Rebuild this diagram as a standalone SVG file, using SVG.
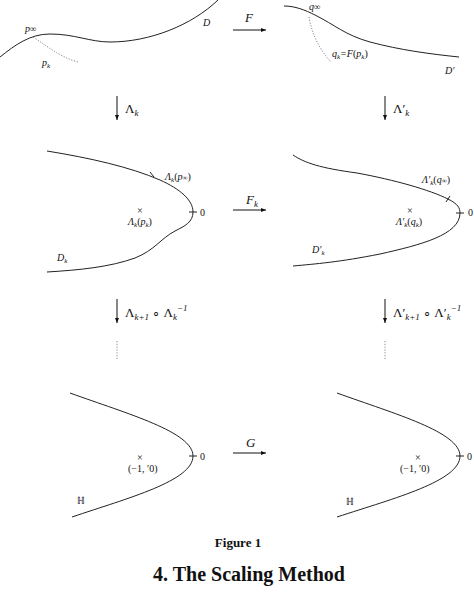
<svg xmlns="http://www.w3.org/2000/svg" width="474" height="593" viewBox="0 0 474 593">
<defs>
<marker id="ah" markerWidth="6" markerHeight="6" refX="5" refY="3" orient="auto" markerUnits="userSpaceOnUse">
<path d="M0,1 L5,3 L0,5 Z" fill="#111"/>
</marker>
<style>
.c{fill:none;stroke:#222;stroke-width:1}
.d{fill:none;stroke:#888;stroke-width:1;stroke-dasharray:1.2 1.6}
.a{fill:none;stroke:#111;stroke-width:1;marker-end:url(#ah)}
.t{fill:none;stroke:#222;stroke-width:1}
.m{font-family:"Liberation Serif",serif;font-style:italic;fill:#111}
.s{font-size:10px}
.l{font-size:13px}
.r{font-family:"Liberation Serif",serif;fill:#111}
.b{font-family:"Liberation Serif",serif;font-weight:bold;fill:#111}
</style>
</defs>
<rect width="474" height="593" fill="#fff"/>

<g id="panel-D">
<path class="c" d="M0,57 C15,45 30,34 50,34 C75,34 90,42 110,42 C150,42 192,25 218,0"/>
<path class="d" d="M33,37 C50,48 60,57 78,62"/>
<text class="m s" x="25" y="32">p<tspan font-size="9">∞</tspan></text>
<text class="m s" x="42" y="66">p<tspan font-size="7" dy="2">k</tspan></text>
<text class="m s" x="203" y="26">D</text>
</g>

<g id="panel-Dprime">
<path class="c" d="M284,6 C295,6 305,10 315,15 C335,25 345,35 370,42 C400,50 430,54 459,57"/>
<path class="d" d="M309,17 C312,35 320,50 331,62"/>
<text class="m s" x="309" y="10">q<tspan font-size="9">∞</tspan></text>
<text class="m s" x="332" y="57">q<tspan font-size="7" dy="2">k</tspan><tspan dy="-2">=</tspan><tspan>F</tspan><tspan font-style="normal">(</tspan>p<tspan font-size="7" dy="2">k</tspan><tspan font-style="normal" dy="-2">)</tspan></text>
<text class="m s" x="445" y="74">D′</text>
</g>

<g id="panel-Dk">
<path class="c" d="M47,151 C90,158 130,167 160,180 C180,189 193,200 193,212 C193,222 185,226 175,231 C160,239 155,250 135,258 C110,267 80,270 47,272"/>
<path class="t" d="M150,172 L154,177 M189,212 L197,212"/>
<text class="m s" x="165" y="180">Λ<tspan font-size="7" dy="2">k</tspan><tspan font-style="normal" dy="-2">(</tspan>p<tspan font-size="7">∞</tspan><tspan font-style="normal">)</tspan></text>
<text class="r s" x="137" y="214">×</text>
<text class="m s" x="128" y="225">Λ<tspan font-size="7" dy="2">k</tspan><tspan font-style="normal" dy="-2">(</tspan>p<tspan font-size="7" dy="2">k</tspan><tspan font-style="normal" dy="-2">)</tspan></text>
<text class="r s" x="200" y="216">0</text>
<text class="m s" x="57" y="261">D<tspan font-size="7" dy="2">k</tspan></text>
</g>

<g id="panel-Dkprime">
<path class="c" d="M293,155 C305,163 320,168 357,173 C395,180 430,190 448,199 C458,204 460,208 460,213 C460,235 420,245 380,254 C340,262 315,264 293,266"/>
<path class="t" d="M446,202 L450,196 M456,213 L464,213"/>
<text class="m s" x="422" y="183">Λ′<tspan font-size="7" dy="2">k</tspan><tspan font-style="normal" dy="-2">(</tspan>q<tspan font-size="7">∞</tspan><tspan font-style="normal">)</tspan></text>
<text class="r s" x="407" y="214">×</text>
<text class="m s" x="396" y="225">Λ′<tspan font-size="7" dy="2">k</tspan><tspan font-style="normal" dy="-2">(</tspan>q<tspan font-size="7" dy="2">k</tspan><tspan font-style="normal" dy="-2">)</tspan></text>
<text class="r s" x="468" y="216">0</text>
<text class="m s" x="312" y="253">D′<tspan font-size="7" dy="2">k</tspan></text>
</g>

<g id="panel-H-left">
<path class="c" d="M70,393 C128,414 193,432 193,456 C193,481 128,498 72,517"/>
<path class="t" d="M189,456 L197,456"/>
<text class="r s" x="137" y="461">×</text>
<text class="r s" x="128" y="472">(−1, ′0)</text>
<text class="r s" x="200" y="460">0</text>
<text class="r s" x="77" y="504">ℍ</text>
</g>

<g id="panel-H-right">
<path class="c" d="M337,393 C395,414 460,432 460,456 C460,481 395,498 337,517"/>
<path class="t" d="M456,456 L464,456"/>
<text class="r s" x="415" y="461">×</text>
<text class="r s" x="400" y="472">(−1, ′0)</text>
<text class="r s" x="467" y="460">0</text>
<text class="r s" x="346" y="505">ℍ</text>
</g>

<g id="connectors">
<path class="a" d="M233,30 L266,30"/>
<path class="a" d="M233,210 L266,210"/>
<path class="a" d="M233,453 L266,453"/>
<path class="a" d="M117,96 L117,120"/>
<path class="a" d="M385,96 L385,120"/>
<path class="a" d="M117,299 L117,323"/>
<path class="a" d="M385,299 L385,323"/>
<path class="d" d="M117,341 L117,359"/>
<path class="d" d="M385,341 L385,359"/>
<text class="m l" x="245" y="22">F</text>
<text class="m l" x="246" y="204">F<tspan font-size="9" dy="3">k</tspan></text>
<text class="m l" x="246" y="447">G</text>
<text class="m l" x="125" y="113"><tspan font-style="normal">Λ</tspan><tspan font-size="9" dy="3">k</tspan></text>
<text class="m l" x="393" y="113"><tspan font-style="normal">Λ′</tspan><tspan font-size="9" dy="3">k</tspan></text>
<text class="m l" x="125" y="317"><tspan font-style="normal">Λ</tspan><tspan font-size="9" dy="3">k+1</tspan><tspan font-style="normal" dy="-3"> ∘ Λ</tspan><tspan font-size="9" dy="3">k</tspan><tspan font-size="9" dy="-9">−1</tspan></text>
<text class="m l" x="393" y="317"><tspan font-style="normal">Λ′</tspan><tspan font-size="9" dy="3">k+1</tspan><tspan font-style="normal" dy="-3"> ∘ Λ′</tspan><tspan font-size="9" dy="3">k</tspan><tspan font-size="9" dy="-9">−1</tspan></text>
</g>

<text class="b" x="238" y="547" font-size="13" text-anchor="middle">Figure 1</text>
<text class="b" x="249" y="581" font-size="20" text-anchor="middle">4.  The Scaling Method</text>
</svg>
